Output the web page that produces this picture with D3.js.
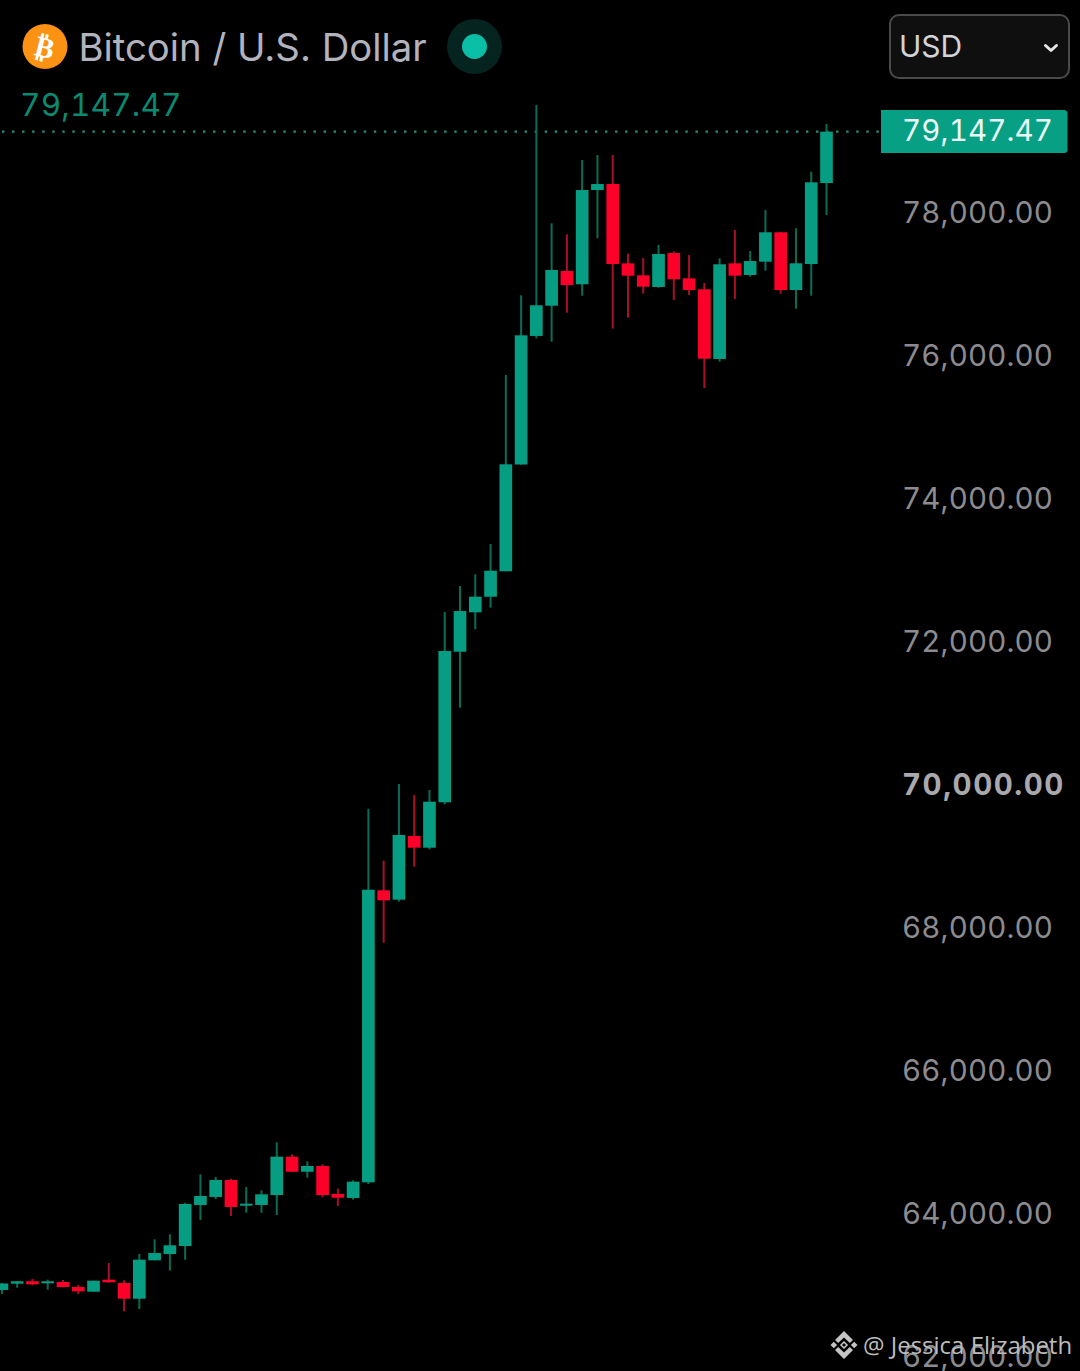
<!DOCTYPE html>
<html><head><meta charset="utf-8">
<script src="https://cdn.jsdelivr.net/npm/d3@7"></script>
<style>html,body{margin:0;padding:0;background:#000;overflow:hidden}svg{display:block}.tn{font-feature-settings:"tnum" 1;font-variant-numeric:tabular-nums}</style>
</head><body><svg id="c" width="1080" height="1371"></svg>
<script>
const title = "Bitcoin / U.S. Dollar";
const currency = "USD";
const lastPrice = 79147.47;
const priceTicks = [62000,64000,66000,68000,70000,72000,74000,76000,78000];
const boldTick = 70000;
const watermark = "@ Jessica Elizabeth";
const opens = [62947,63035,63069,63041,63059,62989,62923,63091,63045,62825,63362,63450,63562,64136,64248,64485,64126,64136,64275,64811,64601,64681,64290,64234,64453,68537,68406,69297,69133,69768,71874,72425,72643,72999,74492,76290,76713,77199,77013,78331,78415,77306,77138,76975,77450,77096,76943,75968,77306,77143,77329,77740,76933,77296,78429];
const highs = [63045,63073,63101,63091,63087,63017,63077,63324,63083,63450,63656,63726,64168,64565,64527,64504,64387,64341,65013,64845,64747,64705,64364,64481,69678,68951,70024,69870,69940,72429,72793,72957,73380,75744,76859,79520,77866,77712,78751,78821,78821,77441,77380,77562,77474,77422,77031,77376,77772,77478,78052,77748,77796,78587,79255];
const lows = [62891,62979,63013,62951,62985,62891,62923,63049,62649,62681,63362,63217,63371,63926,64220,63982,64028,64028,63996,64597,64518,64243,64122,64210,64429,67804,68378,68867,69110,69740,71091,72187,72490,72999,74492,76257,76210,76615,76853,77656,76392,76545,76881,76965,76793,76863,75562,75930,76807,77119,77203,76881,76671,76853,77982];
const closes = [63038,63069,63027,63069,62989,62929,63077,63055,62825,63371,63464,63572,64150,64262,64485,64108,64154,64285,64811,64601,64681,64275,64238,64462,68545,68397,69311,69133,69776,71884,72443,72643,73007,74495,76299,76719,77213,77003,78331,78415,77296,77133,76979,77436,77083,76933,75972,77292,77133,77338,77740,76933,77306,78439,79147.47];

const GREEN="#069d83", RED="#fb0029", GREENW="#0b6c55", REDW="#a81028";
const font = "Inter, Roboto, sans-serif";
const svg = d3.select("#c").style("font-family",font);
svg.append("rect").attr("width",1080).attr("height",1371).attr("fill","#000");

const idx = d3.range(closes.length);
const x = d3.scalePoint().domain(idx).range([1.9,826.5]);
const y = d3.scaleLinear().domain([62000,80000]).range([1357.7,70.7]);
const bodyW = x.step()*0.83;

// dotted last-price line
svg.append("line").attr("x1",2).attr("x2",880).attr("y1",y(lastPrice)).attr("y2",y(lastPrice))
  .attr("stroke","#2a8f79").attr("stroke-width",2.2).attr("stroke-dasharray","2.4 7.65");

// candles
const g = svg.append("g");
const up = i=>closes[i]>=opens[i];
g.selectAll(".w").data(idx).join("line").attr("class","w")
  .attr("x1",i=>x(i)).attr("x2",i=>x(i)).attr("y1",i=>y(highs[i])).attr("y2",i=>y(lows[i]))
  .attr("stroke",i=>up(i)?GREENW:REDW).attr("stroke-width",2);
g.selectAll(".b").data(idx).join("rect").attr("class","b")
  .attr("x",i=>x(i)-bodyW/2).attr("width",bodyW)
  .attr("y",i=>y(Math.max(opens[i],closes[i])))
  .attr("height",i=>Math.max(1.5,Math.abs(y(opens[i])-y(closes[i]))))
  .attr("fill",i=>up(i)?GREEN:RED);

// price axis
const axis = d3.axisRight(y).tickValues(priceTicks).tickSize(0).tickPadding(0).tickFormat(d3.format(",.2f"));
const ax = svg.append("g").attr("transform","translate(902,-1.1)").call(axis);
ax.select(".domain").remove();
ax.selectAll("text").attr("class","tn").attr("font-family",font).attr("font-size",29.5)
  .attr("letter-spacing",d=>d===boldTick?1.5:0.15)
  .attr("fill",d=>d===boldTick?"#a9a9ad":"#8c8c90").attr("font-weight",d=>d===boldTick?700:400)
  .attr("dy","0.35em");

// header
svg.append("circle").attr("cx",45).attr("cy",46.5).attr("r",22.5).attr("fill","#fb9213");
svg.append("text").attr("transform","translate(45,47) rotate(14)").attr("text-anchor","middle").attr("dy","0.36em")
  .attr("font-family","DejaVu Sans").attr("font-weight",700).attr("font-size",29).attr("fill","#fff").text("₿");
svg.append("text").attr("x",78.5).attr("y",60.5).attr("font-size",38.3).attr("fill","#b2b3bd").text(title);
svg.append("circle").attr("cx",474.5).attr("cy",46.5).attr("r",27.5).attr("fill","#05241f");
svg.append("circle").attr("cx",474.5).attr("cy",46.5).attr("r",12.5).attr("fill","#0abfa5");
svg.append("text").attr("class","tn").attr("x",20).attr("y",116).attr("font-size",31.5).attr("letter-spacing",0.2).attr("fill","#0b8a72").text(d3.format(",.2f")(lastPrice));

// currency select
svg.append("rect").attr("x",890).attr("y",15).attr("width",179).attr("height",63).attr("rx",9)
  .attr("fill","#0f0f10").attr("stroke","#4a4a4c").attr("stroke-width",2);
svg.append("text").attr("x",899).attr("y",57).attr("font-size",30).attr("fill","#d4d4d6").text(currency);
svg.append("path").attr("d","M1045.5 45.5 L1051 50.5 L1056.5 45.5").attr("fill","none").attr("stroke","#e6e6e6").attr("stroke-width",3).attr("stroke-linecap","round").attr("stroke-linejoin","round");

// last price label
svg.append("path").attr("d","M881 110 H1064 Q1067.5 110 1067.5 113.5 V150 Q1067.5 153 1064 153 H881 Z").attr("fill","#07a084");
svg.append("text").attr("class","tn").attr("x",902).attr("y",141).attr("font-size",29.5).attr("letter-spacing",0.15).attr("fill","#eafaf6").text(d3.format(",.2f")(lastPrice));

// watermark
const wm = svg.append("g").attr("fill","#c4c4c4").attr("transform","translate(844,1345)");
wm.append("path").attr("d","M0 -14 L9 -5 L5.8 -1.9 L0 -7.6 L-5.8 -1.9 L-9 -5 Z");
wm.append("path").attr("d","M0 14 L9 5 L5.8 1.9 L0 7.6 L-5.8 1.9 L-9 5 Z");
wm.append("path").attr("d","M-13.5 0 L-10.2 -3.3 L-6.9 0 L-10.2 3.3 Z");
wm.append("path").attr("d","M13.5 0 L10.2 -3.3 L6.9 0 L10.2 3.3 Z");
wm.append("path").attr("d","M0 -3 L3 0 L0 3 L-3 0 Z").attr("fill","#000").attr("stroke","#c4c4c4").attr("stroke-width",1.5);
svg.append("text").attr("x",863).attr("y",1354).attr("font-size",24).attr("fill","#bcbcbc").attr("font-family","'Open Sans', sans-serif").text(watermark);
</script></body></html>
